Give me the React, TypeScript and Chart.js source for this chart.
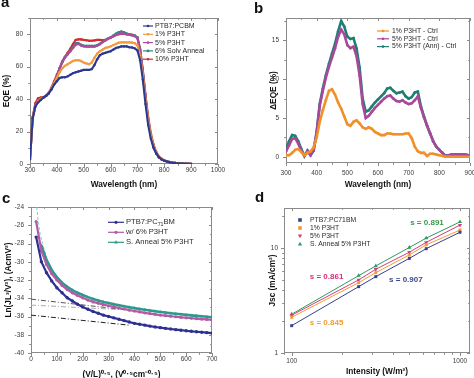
import React, { useEffect, useRef } from 'react';
import { Chart, registerables } from 'chart.js';

Chart.register(...registerables);

const FONT = '"Liberation Sans", Arial, Helvetica, sans-serif';
const TICK_COLOR = '#3a3a3a';
const FRAME_COLOR = '#8a8a8a';

// ---------------- Panel a : EQE (%) vs wavelength ----------------
const wavelengthA = [300, 310, 320, 330, 340, 350, 360, 370, 380, 390, 400, 410, 420, 430, 440, 450, 460, 470, 480, 490, 500, 510, 520, 530, 540, 550, 560, 570, 580, 590, 600, 610, 620, 630, 640, 650, 660, 670, 680, 690, 700, 710, 720, 730, 740, 750, 760, 770, 780, 790, 800, 810, 820, 830, 840, 850, 860, 870, 880, 890, 900];
const eqePTB7 = [3, 28, 35.5, 38, 39.5, 41, 42, 43.5, 46, 49, 51, 53, 53.5, 53.5, 54, 55, 56, 56.5, 57, 57.5, 58, 58, 58, 58.5, 61, 64.5, 67, 68, 68.5, 69, 69.5, 70.5, 71.5, 72, 72.5, 72.5, 72.5, 72, 71.8, 71.3, 70, 64, 52, 37, 24, 15.5, 10, 6.5, 4.2, 2.8, 2, 1.5, 1.1, 0.8, 0.6, 0.45, 0.35, 0.25, 0.15, 0.1, 0.05];
const eqe1 = [3, 28, 35.5, 38.5, 40, 41, 42, 43.5, 46.5, 50, 53, 56.5, 59, 60.5, 61.5, 62.5, 63.5, 64, 64, 63.5, 62.5, 62, 61.5, 62.5, 65.5, 68, 69.5, 70.5, 71.5, 72, 72.5, 73.3, 74, 74.7, 75, 75, 75, 75, 74.8, 74.5, 73, 67, 55, 40, 27, 17.5, 11, 7, 4.6, 3.1, 2.2, 1.6, 1.2, 0.9, 0.7, 0.5, 0.38, 0.28, 0.18, 0.1, 0.05];
const eqe5 = [3, 28.5, 36, 39, 40.3, 41, 42, 43.8, 46.5, 50, 54, 58.5, 62.5, 65.5, 67.5, 69.5, 71.5, 73.5, 74, 73, 72.5, 72.3, 72.3, 72.3, 72.3, 72.8, 73.8, 75, 76, 77, 77.8, 78.7, 79.5, 80.2, 80.5, 80.3, 80, 79.6, 79.3, 78.8, 77.5, 70, 57, 41, 27, 17, 10.5, 6.5, 4.2, 2.9, 2.1, 1.5, 1.1, 0.8, 0.6, 0.45, 0.35, 0.25, 0.15, 0.1, 0.05];
const eqe6Anneal = [3, 28.5, 36, 39, 40.3, 41, 42, 43.8, 46.5, 50, 54, 59, 63, 66, 68, 70, 72, 74.5, 74.5, 73.5, 73, 72.8, 72.8, 72.8, 72.8, 73.3, 74.2, 75.3, 76.3, 77.3, 78, 79.2, 80.3, 81.3, 81.7, 81.2, 80.5, 80, 79.7, 79.2, 78, 70.5, 57.5, 41.5, 27.5, 17.5, 10.8, 6.7, 4.3, 3, 2.1, 1.5, 1.1, 0.8, 0.6, 0.45, 0.35, 0.25, 0.15, 0.1, 0.05];
const eqe10 = [3, 29, 37.5, 40.5, 41, 41.2, 42.3, 44, 47, 51, 55, 59, 63, 66, 68.5, 71, 74, 76.5, 76.8, 76.8, 76.5, 76.3, 76, 76, 76.2, 76.5, 76.5, 76.3, 76.5, 77.2, 78, 78.8, 79.5, 80, 80.2, 80.2, 80, 79.8, 79.5, 79, 78, 71, 58, 43, 29, 19, 12, 7.5, 4.8, 3.2, 2.3, 1.7, 1.3, 1, 0.75, 0.55, 0.4, 0.3, 0.2, 0.12, 0.05];

// ---------------- Panel b : delta EQE (%) vs wavelength ----------------
const wavelengthB = [300, 310, 320, 330, 340, 350, 360, 370, 380, 390, 400, 410, 420, 430, 440, 450, 460, 470, 480, 490, 500, 510, 520, 530, 540, 550, 560, 570, 580, 590, 600, 610, 620, 630, 640, 650, 660, 670, 680, 690, 700, 710, 720, 730, 740, 750, 760, 770, 780, 790, 800, 810, 820, 830, 840, 850, 860, 870, 880, 890, 900];
const dEqe1 = [0.2, 0.2, 0.5, 0.9, 1.0, 0.6, 0.2, 0.5, 0.7, 1.2, 2.5, 4.5, 6, 7.3, 8.5, 8.7, 8, 7, 6.2, 5.2, 4.2, 4.0, 4.5, 4.7, 4.3, 3.8, 3.6, 3.8, 3.6, 3.2, 3.0, 2.8, 2.8, 3.0, 3.0, 2.9, 2.9, 2.9, 2.9, 3.0, 3.0, 2.4, 1.3, 0.7, 0.5, 0.5, 0.1, 0.4, 0.4, 0.3, 0.2, 0.1, 0, 0, 0, 0, 0, 0, 0, 0, 0];
const dEqe5 = [0.7, 1.5, 2.3, 2.4, 1.7, 0.8, 0.1, 0.7, 0.2, 0.8, 3.2, 6.6, 8.5, 10.2, 11.6, 12.8, 14, 15.5, 16.4, 15.8, 14.4, 14, 14.2, 13, 10.5, 6.8, 5, 5.3, 5.8, 6.3, 6.7, 7.1, 7.5, 7.8, 7.9, 7.5, 7.2, 7.1, 7.3, 7, 6.8, 6.9, 7.3, 7.8, 6.3, 5.1, 4, 3, 2, 1.3, 0.9, 0.5, 0.1, 0.2, 0.25, 0.3, 0.3, 0.3, 0.3, 0.2, 0.1];
const dEqe5Ann = [1.0, 2.0, 2.8, 2.7, 2.0, 1.0, 0.1, 0.8, 0.2, 0.8, 3.2, 6.8, 8.8, 10.5, 12, 13.3, 14.6, 16.2, 17.5, 16.8, 15.5, 15.2, 15.3, 14, 11.5, 7.5, 5.8, 6.0, 6.5, 7, 7.4, 7.8, 8.2, 8.8, 8.9, 8.5, 8.2, 8.3, 8.4, 7.8, 7.5, 7.7, 8.3, 8.4, 6.5, 5.2, 4, 3, 2, 1.3, 0.9, 0.5, 0.1, 0.2, 0.3, 0.3, 0.3, 0.3, 0.3, 0.25, 0.1];

// ---------------- Panel c : SCLC ----------------
const fieldC = [20, 40, 60, 80, 100, 120, 140, 160, 180, 200, 220, 240, 260, 280, 300, 320, 340, 360, 380, 400, 420, 440, 460, 480, 500, 520, 540, 560, 580, 600, 620, 640, 660, 680, 700];
const lnPTB7 = [-27.3, -30.0, -31.2, -32.1, -32.85, -33.4, -33.95, -34.3, -34.65, -34.95, -35.2, -35.45, -35.65, -35.85, -36.0, -36.15, -36.3, -36.45, -36.6, -36.75, -36.85, -36.95, -37.05, -37.15, -37.22, -37.3, -37.37, -37.44, -37.5, -37.56, -37.62, -37.67, -37.72, -37.77, -37.82];
const ln6 = [-25.6, -28.8, -30.3, -31.3, -32.0, -32.6, -33.05, -33.4, -33.7, -33.95, -34.2, -34.4, -34.55, -34.7, -34.82, -34.95, -35.07, -35.18, -35.3, -35.4, -35.5, -35.6, -35.68, -35.76, -35.84, -35.9, -35.97, -36.03, -36.09, -36.14, -36.19, -36.24, -36.28, -36.32, -36.36];
const lnAnneal = [null, -28.2, -29.8, -30.9, -31.7, -32.3, -32.75, -33.1, -33.4, -33.65, -33.88, -34.08, -34.25, -34.4, -34.53, -34.65, -34.77, -34.88, -34.98, -35.08, -35.17, -35.26, -35.34, -35.42, -35.5, -35.57, -35.64, -35.7, -35.76, -35.82, -35.88, -35.93, -35.98, -36.03, -36.08];
const fitTealX = [22, 28, 35, 45, 60];
const fitTealY = [-24, -25.6, -26.9, -28.0, -29.6];
const lineDarkX = [0, 380];
const lineDarkY = [-35.85, -36.95];
const lineTopX = [0, 380];
const lineTopY = [-34.1, -35.3];
const lineMidX = [0, 350];
const lineMidY = [-34.75, -35.25];

// ---------------- Panel d : Jsc vs intensity ----------------
const intensityD = [100, 250, 316, 500, 630, 1000];
const jscPTB7 = [1.82, 4.28, 5.33, 7.96, 9.84, 14.1];
const jsc1 = [2.19, 4.67, 5.82, 8.58, 10.7, 14.8];
const jsc5 = [2.29, 4.96, 6.27, 9.1, 11.3, 16.5];
const jscAnneal = [2.34, 5.45, 6.74, 10.1, 12.4, 17.7];
const slopeLabels = ['s = 0.891', 's = 0.861', 's = 0.907', 's = 0.845'];
const slopeX = [506, 128, 379, 128];
const slopeY = [17.3, 5.3, 4.96, 1.93];

// ---------------- helpers ----------------
const pts = (xs: number[], ys: (number | null)[]) => xs.map((x, i) => ({ x, y: ys[i] }));

function drawMarker(ctx: CanvasRenderingContext2D, shape: string, x: number, y: number, r: number, color: string) {
  ctx.fillStyle = color;
  ctx.beginPath();
  if (shape === 'circle') ctx.arc(x, y, r, 0, Math.PI * 2);
  else if (shape === 'rect') ctx.rect(x - r, y - r, 2 * r, 2 * r);
  else if (shape === 'triangle') {
    ctx.moveTo(x, y - r * 1.25); ctx.lineTo(x + r * 1.15, y + r * 0.8); ctx.lineTo(x - r * 1.15, y + r * 0.8); ctx.closePath();
  } else if (shape === 'down') {
    ctx.moveTo(x, y + r * 1.25); ctx.lineTo(x + r * 1.15, y - r * 0.8); ctx.lineTo(x - r * 1.15, y - r * 0.8); ctx.closePath();
  }
  ctx.fill();
}

function tickValues(scale: any, minorStep: number | undefined, isLog: boolean) {
  const min = scale.min, max = scale.max;
  const major: number[] = [];
  const minor: number[] = [];
  if (isLog) {
    for (let e = Math.floor(Math.log10(min)); e <= Math.ceil(Math.log10(max)); e++) {
      for (let k = 1; k <= 9; k++) {
        const v = k * Math.pow(10, e);
        if (v < min * 0.9999 || v > max * 1.0001) continue;
        (k === 1 ? major : minor).push(v);
      }
    }
  } else {
    scale.ticks.forEach((t: any) => major.push(t.value));
    if (minorStep) {
      for (let v = Math.ceil(min / minorStep) * minorStep; v <= max + 1e-9; v += minorStep) {
        if (!major.some((m) => Math.abs(m - v) < 1e-6)) minor.push(v);
      }
    }
  }
  return { major, minor };
}

function makeDecor(cfg: any) {
  return {
    id: 'decor',
    beforeDatasetsDraw(chart: any) {
      const { ctx, chartArea: ca } = chart;
      const xs = chart.scales.x, ys = chart.scales.y;
      ctx.save();
      ctx.strokeStyle = FRAME_COLOR;
      ctx.lineWidth = 1;
      ctx.strokeRect(ca.left + 0.5, ca.top + 0.5, ca.right - ca.left - 1, ca.bottom - ca.top - 1);
      const xt = tickValues(xs, cfg.xMinor, !!cfg.logX);
      const yt = tickValues(ys, cfg.yMinor, !!cfg.logY);
      ctx.beginPath();
      const xTick = (v: number, len: number) => {
        const p = Math.round(xs.getPixelForValue(v)) + 0.5;
        ctx.moveTo(p, ca.bottom); ctx.lineTo(p, ca.bottom + len);
        ctx.moveTo(p, ca.top); ctx.lineTo(p, ca.top + len);
      };
      const yTick = (v: number, len: number) => {
        const p = Math.round(ys.getPixelForValue(v)) + 0.5;
        ctx.moveTo(ca.left - len, p); ctx.lineTo(ca.left, p);
        ctx.moveTo(ca.right, p); ctx.lineTo(ca.right - len, p);
      };
      xt.major.forEach((v) => xTick(v, 3));
      xt.minor.forEach((v) => xTick(v, 1.8));
      yt.major.forEach((v) => yTick(v, 3));
      yt.minor.forEach((v) => yTick(v, 1.8));
      ctx.stroke();
      ctx.restore();
    },
    afterDraw(chart: any) {
      const { ctx } = chart;
      ctx.save();
      ctx.fillStyle = '#111';
      ctx.font = `bold 15px ${FONT}`;
      ctx.textBaseline = 'alphabetic';
      ctx.textAlign = 'left';
      ctx.fillText(cfg.letter.text, cfg.letter.x, cfg.letter.y);
      const lg = cfg.legend;
      lg.items.forEach((it: any, i: number) => {
        const y = lg.y + i * lg.dy;
        if (it.line) {
          ctx.strokeStyle = it.color;
          ctx.lineWidth = 1.2;
          ctx.beginPath();
          ctx.moveTo(lg.x, y); ctx.lineTo(lg.x + lg.len, y);
          ctx.stroke();
        }
        drawMarker(ctx, it.marker, lg.x + lg.len / 2, y, lg.r, it.color);
        let tx = lg.x + lg.len + lg.gap;
        ctx.fillStyle = '#2a2a2a';
        ctx.textBaseline = 'middle';
        it.parts.forEach((p: any) => {
          const size = p.sub ? lg.size * 0.7 : lg.size;
          ctx.font = `${size}px ${FONT}`;
          ctx.fillText(p.t, tx, p.sub ? y + lg.size * 0.3 : y);
          tx += ctx.measureText(p.t).width;
        });
      });
      if (cfg.notes) {
        const xs = chart.scales.x, ys = chart.scales.y;
        cfg.notes.forEach((n: any) => {
          ctx.fillStyle = n.color;
          ctx.font = `bold 8px ${FONT}`;
          ctx.textBaseline = 'middle';
          ctx.fillText(n.text, xs.getPixelForValue(n.x), ys.getPixelForValue(n.y));
        });
      }
      ctx.restore();
    },
  };
}

const decadeLabel = (v: any) => {
  const l = Math.log10(Number(v));
  return Math.abs(l - Math.round(l)) < 1e-9 ? String(v) : '';
};
const plainLabel = (v: any) => String(v);

function axis(o: any) {
  const horizontal = o.pos === 'bottom';
  const ticks: any = {
    autoSkip: false, maxRotation: 0, minRotation: 0, includeBounds: false,
    padding: o.pad, color: TICK_COLOR, font: { family: FONT, size: 6.5 },
    callback: o.log ? decadeLabel : plainLabel,
  };
  if (o.step) ticks.stepSize = o.step;
  return {
    type: o.log ? 'logarithmic' : 'linear',
    position: o.pos,
    min: o.min,
    max: o.max,
    grid: { display: false, drawTicks: false },
    border: { display: false },
    ticks,
    title: {
      display: true, text: o.title, color: '#111',
      font: { family: FONT, size: 8.3, weight: 'bold' },
      padding: horizontal ? { top: 0, bottom: o.tpad } : { top: o.tpad, bottom: 0 },
    },
    afterFit: (s: any) => {
      if (horizontal) { s.height = o.size; s.paddingLeft = 0; s.paddingRight = 0; }
      else { s.width = o.size; s.paddingTop = 0; s.paddingBottom = 0; }
    },
  };
}

function baseOptions(padding: any, x: any, y: any) {
  return {
    responsive: false,
    animation: false,
    devicePixelRatio: 1,
    events: [],
    layout: { padding },
    plugins: { legend: { display: false }, tooltip: { enabled: false } },
    scales: { x, y },
  };
}

const lineDs = (label: string, data: any, color: string, extra: any = {}) => ({
  label, data, borderColor: color, backgroundColor: color, pointBackgroundColor: color,
  pointBorderWidth: 0, tension: 0, fill: false, ...extra,
});

const C = {
  navy: '#2b3990', orange: '#f39a3a', magenta: '#b04a9e', teal: '#2a8a80', red: '#d82a2e',
};

function buildA() {
  const ex = { borderWidth: 2.1, pointRadius: 1.2 };
  return {
    type: 'line',
    data: {
      datasets: [
        lineDs('PTB7:PCBM', pts(wavelengthA, eqePTB7), C.navy, ex),
        lineDs('1% P3HT', pts(wavelengthA, eqe1), C.orange, ex),
        lineDs('5% P3HT', pts(wavelengthA, eqe5), C.magenta, ex),
        lineDs('6% Solv Anneal', pts(wavelengthA, eqe6Anneal), C.teal, ex),
        lineDs('10% P3HT', pts(wavelengthA, eqe10), C.red, ex),
      ],
    },
    options: baseOptions(
      { left: 0, top: 18, right: 19, bottom: 0 },
      axis({ pos: 'bottom', min: 300, max: 1000, step: 100, pad: 2.6, title: 'Wavelength (nm)', tpad: 2.5, size: 28 }),
      axis({ pos: 'left', min: 0, max: 90, step: 20, pad: 7, title: 'EQE (%)', tpad: 2, size: 30 }),
    ),
    plugins: [makeDecor({
      letter: { text: 'a', x: 1, y: 7 },
      xMinor: 50, yMinor: 10,
      legend: {
        x: 143, y: 26, dy: 8.3, len: 10, gap: 2, size: 7, r: 1.3,
        items: [
          { parts: [{ t: 'PTB7:PCBM' }], color: C.navy, marker: 'circle', line: true },
          { parts: [{ t: '1% P3HT' }], color: C.orange, marker: 'circle', line: true },
          { parts: [{ t: '5% P3HT' }], color: C.magenta, marker: 'circle', line: true },
          { parts: [{ t: '6% Solv Anneal' }], color: C.teal, marker: 'circle', line: true },
          { parts: [{ t: '10% P3HT' }], color: C.red, marker: 'circle', line: true },
        ],
      },
    })],
  };
}

function buildB() {
  const ex = { borderWidth: 2.6, pointRadius: 1.3 };
  const cb = { orange: '#f0902a', magenta: '#a8489c', teal: '#1f7f72' };
  return {
    type: 'line',
    data: {
      datasets: [
        lineDs('1% P3HT - Ctrl', pts(wavelengthB, dEqe1), cb.orange, ex),
        lineDs('5% P3HT - Ctrl', pts(wavelengthB, dEqe5), cb.magenta, ex),
        lineDs('5% P3HT (Ann) - Ctrl', pts(wavelengthB, dEqe5Ann), cb.teal, ex),
      ],
    },
    options: baseOptions(
      { left: 0, top: 18, right: 4, bottom: 0 },
      axis({ pos: 'bottom', min: 300, max: 900, step: 100, pad: 6, title: 'Wavelength (nm)', tpad: 2, size: 29 }),
      axis({ pos: 'left', min: -0.8, max: 17.9, step: 5, pad: 7, title: 'ΔEQE (%)', tpad: 31.7, size: 49 }),
    ),
    plugins: [makeDecor({
      letter: { text: 'b', x: 17, y: 13 },
      xMinor: 50, yMinor: 2.5,
      legend: {
        x: 140, y: 31, dy: 7.8, len: 12, gap: 3, size: 6.8, r: 1.3,
        items: [
          { parts: [{ t: '1% P3HT - Ctrl' }], color: cb.orange, marker: 'circle', line: true },
          { parts: [{ t: '5% P3HT - Ctrl' }], color: cb.magenta, marker: 'circle', line: true },
          { parts: [{ t: '5% P3HT (Ann) - Ctrl' }], color: cb.teal, marker: 'circle', line: true },
        ],
      },
    })],
  };
}

function buildC() {
  const cc = { navy: '#2e3192', magenta: '#b35aa6', teal: '#2a9a8c' };
  const dash = (label: string, xs: number[], ys: number[], color: string, d: number[]) =>
    lineDs(label, pts(xs, ys), color, { borderWidth: 1, pointRadius: 0, borderDash: d });
  return {
    type: 'line',
    data: {
      datasets: [
        lineDs('PTB7:PC71BM', pts(fieldC, lnPTB7), cc.navy, { borderWidth: 2.2, pointRadius: 1.7 }),
        lineDs('w/ 6% P3HT', pts(fieldC, ln6), cc.magenta, { borderWidth: 2.2, pointRadius: 1.6 }),
        lineDs('S. Anneal 5% P3HT', pts(fieldC, lnAnneal), cc.teal, { borderWidth: 2.6, pointRadius: 1.9, pointStyle: 'triangle' }),
        dash('fit anneal', fitTealX, fitTealY, '#86c8c2', [3, 2]),
        dash('fit low 1', lineDarkX, lineDarkY, '#222', [5, 2, 1, 2]),
        dash('fit low 2', lineTopX, lineTopY, '#555', [5, 2, 1, 2]),
        dash('fit low 3', lineMidX, lineMidY, '#aaa', [5, 2, 1, 2]),
      ],
    },
    options: baseOptions(
      { left: 0, top: 15, right: 25, bottom: 0 },
      axis({ pos: 'bottom', min: 0, max: 700, step: 100, pad: 2, title: '(V/L)⁰·⁵, (V⁰·⁵cm⁻⁰·⁵)', tpad: -1.5, size: 25 }),
      axis({ pos: 'left', min: -40, max: -24, step: 2, pad: 7, title: 'Ln(JL³/V²), (AcmV²)', tpad: 3.5, size: 31 }),
    ),
    plugins: [makeDecor({
      letter: { text: 'c', x: 2, y: 11 },
      xMinor: 50, yMinor: 1,
      legend: {
        x: 108, y: 30.3, dy: 10, len: 16, gap: 2, size: 7.6, r: 1.6,
        items: [
          { parts: [{ t: 'PTB7:PC' }, { t: '71', sub: true }, { t: 'BM' }], color: cc.navy, marker: 'circle', line: true },
          { parts: [{ t: 'w/ 6% P3HT' }], color: cc.magenta, marker: 'circle', line: true },
          { parts: [{ t: 'S. Anneal 5% P3HT' }], color: cc.teal, marker: 'triangle', line: true },
        ],
      },
    })],
  };
}

function buildD() {
  const cd = { navy: '#34418f', orange: '#f39a38', magenta: '#cf3f7e', green: '#2f9a5e' };
  const ex = { borderWidth: 1, pointRadius: 2.1 };
  return {
    type: 'line',
    data: {
      datasets: [
        lineDs('PTB7:PC71BM', pts(intensityD, jscPTB7), cd.navy, { ...ex, pointStyle: 'rect' }),
        lineDs('1% P3HT', pts(intensityD, jsc1), cd.orange, { ...ex, pointStyle: 'rect' }),
        lineDs('5% P3HT', pts(intensityD, jsc5), cd.magenta, { ...ex, pointStyle: 'triangle', pointRotation: 180, pointRadius: 2.4 }),
        lineDs('S. Anneal 5% P3HT', pts(intensityD, jscAnneal), cd.green, { ...ex, pointStyle: 'triangle', pointRadius: 2.4 }),
      ],
    },
    options: baseOptions(
      { left: 0, top: 16, right: 4, bottom: 0 },
      axis({ pos: 'bottom', log: true, min: 90, max: 1147, pad: 4.8, title: 'Intensity (W/m²)', tpad: 1, size: 25 }),
      axis({ pos: 'left', log: true, min: 1, max: 24, pad: 6, title: 'Jsc (mA/cm²)', tpad: 31, size: 47 }),
    ),
    plugins: [makeDecor({
      letter: { text: 'd', x: 18, y: 10 },
      logX: true, logY: true,
      legend: {
        x: 59, y: 28, dy: 8, len: 8, gap: 6, size: 6.8, r: 1.8,
        items: [
          { parts: [{ t: 'PTB7:PC71BM' }], color: cd.navy, marker: 'rect', line: false },
          { parts: [{ t: '1% P3HT' }], color: cd.orange, marker: 'rect', line: false },
          { parts: [{ t: '5% P3HT' }], color: cd.magenta, marker: 'down', line: false },
          { parts: [{ t: 'S. Anneal 5% P3HT' }], color: cd.green, marker: 'triangle', line: false },
        ],
      },
      notes: [
        { text: slopeLabels[0], x: slopeX[0], y: slopeY[0], color: '#3a9a48' },
        { text: slopeLabels[1], x: slopeX[1], y: slopeY[1], color: '#d6317a' },
        { text: slopeLabels[2], x: slopeX[2], y: slopeY[2], color: '#3b4a8c' },
        { text: slopeLabels[3], x: slopeX[3], y: slopeY[3], color: '#f0a030' },
      ],
    })],
  };
}

function Panel({ left, top, width, height, build }: any) {
  const ref = useRef<HTMLCanvasElement>(null);
  useEffect(() => {
    const chart = new Chart(ref.current as HTMLCanvasElement, build());
    return () => chart.destroy();
  }, []);
  return (
    <canvas
      ref={ref}
      width={width}
      height={height}
      style={{ position: 'absolute', left, top, width, height, display: 'block' }}
    />
  );
}

export default function App() {
  return (
    <div style={{ position: 'fixed', left: 0, top: 0, width: 474, height: 378, background: '#fff', overflow: 'hidden' }}>
      <Panel left={0} top={0} width={237} height={192} build={buildA} />
      <Panel left={237} top={0} width={237} height={192} build={buildB} />
      <Panel left={0} top={192} width={237} height={186} build={buildC} />
      <Panel left={237} top={192} width={237} height={186} build={buildD} />
    </div>
  );
}
